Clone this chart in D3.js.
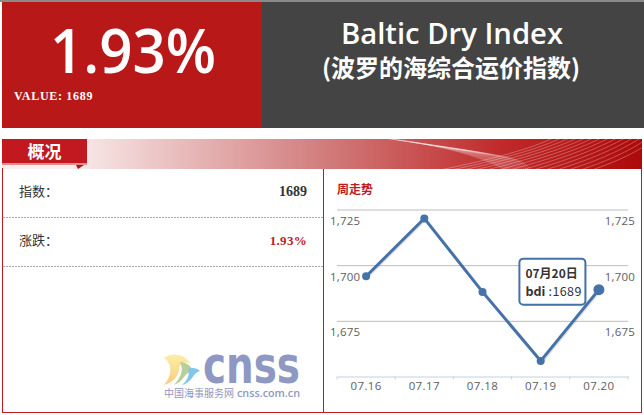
<!DOCTYPE html>
<html>
<head>
<meta charset="utf-8">
<script src="https://d3js.org/d3.v7.min.js"></script>
<style>
  html, body { margin: 0; padding: 0; background: #fff; overflow: hidden; }
  text { font-family: "Noto Sans CJK SC", "Open Sans", sans-serif; }
  .num { font-family: "Open Sans", "Noto Sans CJK SC", sans-serif; }
  .serif { font-family: "Liberation Serif", "Noto Sans CJK SC", serif; }
  .gridlines line { stroke: #bdbdbd; }
  .gridlines .domain { stroke: none; }
  .yaxis .domain, .yaxis line { stroke: none; }
  .yaxis text { fill: #606060; font-size: 11.5px; letter-spacing: 0.2px; font-family: "Open Sans", sans-serif; }
  .xaxis .domain, .xaxis line { stroke: #c0d0e0; }
  .xaxis text { fill: #606060; font-size: 11.5px; letter-spacing: 0.4px; font-family: "Open Sans", sans-serif; }
</style>
</head>
<body>
<svg id="chart" width="644" height="415"></svg>
<script>
// values
const dates = ["07.16", "07.17", "07.18", "07.19", "07.20"];
const bdi = [1695, 1721, 1688, 1657, 1689];
const yTicks = [1675, 1700, 1725];
const gridTicks = [1675, 1700, 1725];
const summaryLabels = ["指数：", "涨跌："];
const summaryValues = ["1689", "1.93%"];

const red = "#b91818";
const svg = d3.select("svg#chart");

// header blocks
svg.append("rect").attr("width", 644).attr("height", 2).attr("fill", "#8a8a8a");
svg.append("rect").attr("x", 2).attr("y", 2).attr("width", 260).attr("height", 126).attr("fill", red);
svg.append("rect").attr("x", 262).attr("y", 2).attr("width", 382).attr("height", 126).attr("fill", "#444");

svg.append("text").attr("class", "num")
  .attr("x", 50).attr("y", 73)
  .attr("fill", "#fff").attr("font-size", 61).attr("font-weight", 600)
  .attr("textLength", 166).attr("lengthAdjust", "spacingAndGlyphs")
  .text("1.93%");
svg.append("text").attr("class", "serif")
  .attr("x", 14).attr("y", 100)
  .attr("fill", "#fff").attr("font-size", 12).attr("font-weight", 700)
  .attr("letter-spacing", 0.7)
  .text("VALUE: 1689");
svg.append("text").attr("class", "num")
  .attr("x", 452).attr("y", 44).attr("text-anchor", "middle")
  .attr("fill", "#fff").attr("font-size", 28).attr("font-weight", 600)
  .attr("textLength", 222).attr("lengthAdjust", "spacingAndGlyphs")
  .text("Baltic Dry Index");
svg.append("text")
  .attr("x", 451).attr("y", 77).attr("text-anchor", "middle")
  .attr("fill", "#fff").attr("font-size", 24).attr("font-weight", 700)
  .text("(波罗的海综合运价指数)");

// banner
const defs = svg.append("defs");
const grad = defs.append("linearGradient").attr("id", "bannerGrad");
grad.append("stop").attr("offset", "0.1").attr("stop-color", "#fbeeee");
grad.append("stop").attr("offset", "0.5").attr("stop-color", "#d27d7d");
grad.append("stop").attr("offset", "0.78").attr("stop-color", "#c02a2a");
grad.append("stop").attr("offset", "1").attr("stop-color", "#ad0a0a");
defs.append("clipPath").attr("id", "bannerClip")
  .append("rect").attr("x", 2).attr("y", 139).attr("width", 640).attr("height", 30);

svg.append("rect").attr("x", 2).attr("y", 139).attr("width", 640).attr("height", 30)
  .attr("fill", "url(#bannerGrad)");

// wave lines in the banner, just decoration
const wave = svg.append("g").attr("clip-path", "url(#bannerClip)")
  .attr("fill", "none").attr("stroke", "#fff").attr("stroke-width", 0.7);
d3.range(14).forEach(i => {
  wave.append("path").attr("stroke-opacity", 0.3)
    .attr("d", `M${370 + i * 7},${136 + i} C${420 + i * 6},${143 + i} ${470 + i * 4},${150 + i * 0.5} ${505 + i * 2},170`);
  wave.append("path").attr("stroke-opacity", 0.4)
    .attr("d", `M${430 + i * 12},${172} C${480 + i * 12},${162 - i * 0.5} ${530 + i * 9},${150 - i * 0.5} ${555 + i * 8},137`);
});

svg.append("rect").attr("x", 2).attr("y", 139).attr("width", 85).attr("height", 24).attr("fill", "#c1191f");
svg.append("rect").attr("x", 2).attr("y", 163).attr("width", 85).attr("height", 2).attr("fill", "#dc8f90");
svg.append("path").attr("d", "M76,165 L84,165 L78,169 Z").attr("fill", "#a81418");
svg.append("text").attr("x", 44.5).attr("y", 158).attr("text-anchor", "middle")
  .attr("fill", "#fff").attr("font-size", 17).attr("font-weight", 700).text("概况");

// panel borders
const border = svg.append("g").attr("fill", "#c1191f");
border.append("rect").attr("x", 2).attr("y", 168).attr("width", 1).attr("height", 245);
border.append("rect").attr("x", 323).attr("y", 169).attr("width", 1).attr("height", 243);
border.append("rect").attr("x", 641).attr("y", 169).attr("width", 1).attr("height", 243);
border.append("rect").attr("x", 2).attr("y", 412).attr("width", 640).attr("height", 1);

// left table
summaryLabels.forEach((label, i) => {
  const rowY = 196 + i * 49;
  svg.append("text").attr("x", 19).attr("y", rowY).attr("font-size", 13).attr("fill", "#333").text(label);
  svg.append("text").attr("class", "serif").attr("x", 307).attr("y", rowY)
    .attr("text-anchor", "end").attr("font-size", i === 0 ? 14 : 13).attr("font-weight", 700)
    .attr("letter-spacing", i === 0 ? 0 : 0.3)
    .attr("fill", i === 0 ? "#333" : "#c1191f").text(summaryValues[i]);
  svg.append("line").attr("x1", 3).attr("x2", 323)
    .attr("y1", 217.5 + i * 49).attr("y2", 217.5 + i * 49)
    .attr("stroke", "#aaa").attr("stroke-dasharray", "2,1");
});

// logo
const logoGrad = defs.append("linearGradient").attr("id", "logoGrad").attr("x1", 0).attr("y1", 0).attr("x2", 0).attr("y2", 1);
logoGrad.append("stop").attr("offset", "0").attr("stop-color", "#fdeea6");
logoGrad.append("stop").attr("offset", "1").attr("stop-color", "#fbcb80");
const logo = svg.append("g");
logo.append("path").attr("d", "M164,358 C172,352 184,354 190,363 C183,361 179,365 179,370 C178,377 172,383 164,385 C171,377 174,365 164,358 Z").attr("fill", "url(#logoGrad)");
logo.append("path").attr("d", "M180,362 C187,362 193,367 194,374 C189,371 186,374 184,377 C182,380 179,383 174,385 C181,377 184,370 180,362 Z").attr("fill", "#b9cf9a");
logo.append("path").attr("d", "M188,369 C192,367 197,368 200,371 C196,372 194,375 192,378 C190,381 186,384 182,385 C188,380 190,374 188,369 Z").attr("fill", "#7fc6ec");
logo.append("text").attr("x", 203).attr("y", 383).style("font-family", "'DejaVu Sans', sans-serif")
  .attr("font-size", 52).attr("font-weight", 700).attr("fill", "#8e98c2")
  .attr("textLength", 97).attr("lengthAdjust", "spacingAndGlyphs").text("cnss");
logo.append("text").attr("x", 164).attr("y", 397).attr("font-size", 10).attr("fill", "#8e98c2").text("中国海事服务网");
logo.append("text").attr("class", "num").attr("x", 237).attr("y", 397).attr("font-size", 10.5).attr("fill", "#8e98c2")
  .attr("textLength", 63).attr("lengthAdjust", "spacingAndGlyphs").attr("font-weight", 600).text("cnss.com.cn");

// weekly trend chart
svg.append("text").attr("x", 337).attr("y", 194).attr("font-size", 12).attr("font-weight", 700)
  .attr("fill", "#c1191f").text("周走势");

const margin = { left: 337, top: 209.5 };
const chartWidth = 291;
const chartHeight = 167;

const xScale = d3.scaleBand().domain(dates).range([0, chartWidth]);
const yScale = d3.scaleLinear().domain([1650, 1725]).range([chartHeight, 0]);
const xPos = d => xScale(d) + xScale.bandwidth() / 2;

const chartArea = svg.append("g").attr("transform", `translate(${margin.left},${margin.top})`);

chartArea.append("g").attr("class", "gridlines")
  .call(d3.axisLeft(yScale).tickValues(gridTicks).tickSize(-chartWidth).tickFormat(""));

chartArea.append("g").attr("class", "xaxis")
  .attr("transform", `translate(0,${chartHeight})`)
  .call(d3.axisBottom(xScale).tickSize(0).tickPadding(5));

// axisBottom puts ticks on band centres, the ticks here sit on the band edges
chartArea.select(".xaxis").selectAll("line.edge").data(d3.range(dates.length + 1))
  .join("line").attr("class", "edge")
  .attr("x1", i => i * xScale.step()).attr("x2", i => i * xScale.step())
  .attr("y1", 0).attr("y2", 3);

chartArea.append("g").attr("class", "yaxis")
  .attr("transform", "translate(-15,0)")
  .call(d3.axisRight(yScale).tickValues(yTicks).tickSize(0).tickFormat(d3.format(",")))
  .selectAll("text").attr("dy", "1.3em").attr("x", 8);

chartArea.append("g").attr("class", "yaxis")
  .attr("transform", `translate(${chartWidth + 7},0)`)
  .call(d3.axisLeft(yScale).tickValues(yTicks).tickSize(0).tickFormat(d3.format(",")))
  .selectAll("text").attr("dy", "1.3em").attr("x", 0);

const line = d3.line().x((d, i) => xPos(dates[i])).y(d => yScale(d));

chartArea.append("path").datum(bdi).attr("fill", "none")
  .attr("stroke", "#000").attr("stroke-opacity", 0.12).attr("stroke-width", 3)
  .attr("transform", "translate(1,1)").attr("d", line);
chartArea.append("path").datum(bdi).attr("fill", "none")
  .attr("stroke", "#4572a7").attr("stroke-width", 3).attr("d", line);

chartArea.selectAll("circle.point").data(bdi).join("circle").attr("class", "point")
  .attr("cx", (d, i) => xPos(dates[i])).attr("cy", d => yScale(d))
  .attr("r", (d, i) => i === dates.length - 1 ? 5.5 : 4)
  .attr("fill", "#4572a7");

// tooltip on the last point
const lastX = xPos(dates[dates.length - 1]);
const lastY = yScale(bdi[bdi.length - 1]);
const tip = chartArea.append("g").attr("transform", `translate(${lastX - 79.5},${lastY - 31})`);
tip.append("rect").attr("x", 1).attr("y", 1).attr("width", 66).attr("height", 46).attr("rx", 4)
  .attr("fill", "#000").attr("fill-opacity", 0.1);
tip.append("rect").attr("width", 66).attr("height", 46).attr("rx", 4)
  .attr("fill", "#fff").attr("stroke", "#4572a7").attr("stroke-width", 2);
tip.append("text").attr("x", 6).attr("y", 19).attr("font-size", 12).attr("font-weight", 700)
  .attr("fill", "#333").text("07月20日");
const tipValue = tip.append("text").attr("x", 6).attr("y", 37).attr("font-size", 12.5).attr("fill", "#333");
tipValue.append("tspan").attr("font-weight", 700).text("bdi");
tipValue.append("tspan").attr("letter-spacing", 0.4).text(" :" + bdi[bdi.length - 1]);
</script>
</body>
</html>
